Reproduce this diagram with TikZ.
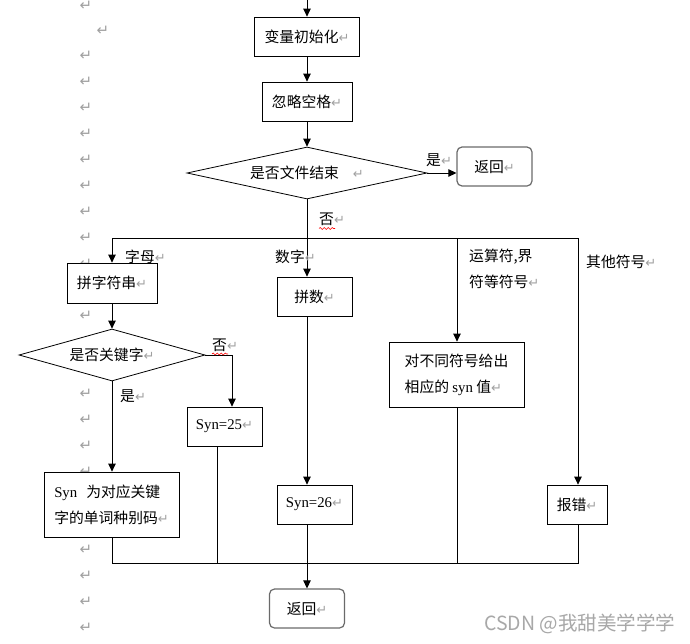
\documentclass[tikz,border=0pt]{standalone}
\usepackage{fontspec}
\setmainfont{Liberation Serif}
\newfontfamily\cjk{Noto Sans CJK SC}
\newfontfamily\symf{DejaVu Sans}
\usetikzlibrary{arrows.meta,shapes.geometric,decorations.pathmorphing}
\definecolor{markgray}{HTML}{A0A0A0}
\definecolor{rgray}{HTML}{6A6A6A}
\definecolor{wmgray}{HTML}{A8A8A8}
\newcommand{\rt}{{\symf\fontsize{13}{13}\selectfont\color{markgray}↵}}
\newcommand{\lat}[1]{{\rmfamily #1}}
\begin{document}
\begin{tikzpicture}[x=1pt,y=-1pt,
  every node/.style={font=\cjk\fontsize{14.8}{26}\selectfont, inner sep=0pt},
  box/.style={draw, line width=0.8pt, fill=white, align=left},
  rbox/.style={draw=rgray, line width=1.2pt, rounded corners=5pt, fill=white},
  dia/.style={diamond, draw, line width=0.8pt, fill=white},
  arr/.style={-{Triangle[length=8pt,width=7.5pt]}, line width=0.8pt},
  ln/.style={line width=0.8pt},
  lbl/.style={anchor=base west},
  mk/.style={font=\symf\fontsize{15}{15}\selectfont, text=markgray},
  wavy/.style={red, line width=0.6pt, decorate, decoration={snake, amplitude=1pt, segment length=4pt}}
]
\useasboundingbox (0,0) rectangle (690,643);
\fill[white] (0,0) rectangle (690,643);

% paragraph marks in the left margin
\node[mk] (m0) at (86,6) {↵};
\node[mk] (m1) at (103,31) {↵};
\foreach \yy [count=\i] in {56,82,108,134,160,186,212,238,264,316,394,420,446,472,550,576,602,628}
  \node[mk] (ml\i) at (86,\yy) {↵};

% boxes
\node[box, minimum width=105pt, minimum height=39pt] (A) at (307,36.5) {变量初始化\rt};
\node[box, minimum width=90pt, minimum height=39pt] (B) at (307,101.5) {忽略空格\rt};
\node[dia, minimum width=240pt, minimum height=52pt, aspect=4.6] (C) at (307,173) {是否文件结束\hspace{14pt}\rt};
\node[rbox, minimum width=75pt, minimum height=39pt] (D) at (494.5,166.5) {返回\rt};
\node[box, minimum width=90pt, minimum height=40pt] (E) at (112,283) {拼字符串\rt};
\node[dia, minimum width=186pt, minimum height=52pt, aspect=3.6] (F) at (112,355) {是否关键字\rt};
\node[box, minimum width=75pt, minimum height=39pt] (G) at (224.5,426.5) {\lat{Syn=25}\rt};
\node[box, minimum width=135pt, minimum height=65pt] (H) at (111.5,504.5) {\lat{Syn}\hspace{9pt}为对应关键\\字的单词种别码\rt};
\node[box, minimum width=75pt, minimum height=39pt] (I) at (314.5,296.5) {拼数\rt};
\node[box, minimum width=75pt, minimum height=39pt] (J) at (314.5,504.5) {\lat{Syn=26}\rt};
\node[box, minimum width=135pt, minimum height=65pt] (K) at (456.5,374.5) {对不同符号给出\\相应的 \lat{syn} 值\rt};
\node[box, minimum width=60pt, minimum height=39pt] (L) at (577,504.5) {报错\rt};
\node[rbox, minimum width=75pt, minimum height=39pt] (M) at (307,608.5) {返回\rt};

% junction coordinates
\coordinate (top) at (307,0);
\coordinate (j0) at (307,238);
\coordinate (jL) at (112,238);
\coordinate (jS) at (457,238);
\coordinate (jR) at (578,238);
\coordinate (fN) at (232,355);
\coordinate (bL) at (112,563);
\coordinate (bG) at (217,563);
\coordinate (bM) at (307,563);
\coordinate (bS) at (457,563);
\coordinate (bR) at (578,563);

% connectors
\draw[arr] (top) -- (A.north);
\draw[arr] (A) -- (B);
\draw[arr] (B) -- (C.north);
\draw[arr] (C.east) -- (C.east -| D.west);
\draw[ln] (C.south) -- (j0);
\draw[ln] (jL) -- (jR);
\draw[arr] (jL) -- (E.north);
\draw[arr] (j0) -- (j0 |- I.north);
\draw[arr] (jS) -- (jS |- K.north);
\draw[arr] (jR) -- (jR |- L.north);
\draw[arr] (E) -- (F.north);
\draw[arr] (F.east) -- (fN) -- (fN |- G.north);
\draw[arr] (F.south) -- (F.south |- H.north);
\draw[arr] (j0 |- I.south) -- (j0 |- J.north);
\draw[ln] (bL |- H.south) -- (bL) -- (bR) -- (bR |- L.south);
\draw[ln] (bG |- G.south) -- (bG);
\draw[ln] (bS |- K.south) -- (bS);
\draw[arr] (bM |- J.south) -- (M.north);

% labels
\node[lbl] (yes1) at (426,165.5) {是\rt};
\node[lbl] (no1) at (319,224.5) {否\rt};
\draw[wavy] (no1.base west) ++(0,4) -- ++(16,0);
\node[lbl] (t1) at (125,262.5) {字母\rt};
\node[lbl] (t2) at (275,262.5) {数字\rt};
\node[lbl, align=left] (t3) at (469,287.5) {运算符,界\\符等符号\rt};
\node[lbl] (t4) at (586,267.5) {其他符号\rt};
\node[lbl] (no2) at (212,350.5) {否\rt};
\draw[wavy] (no2.base west) ++(0,3.5) -- ++(16,0);
\node[lbl] (yes2) at (120,401.5) {是\rt};

% watermark
\node[lbl, font=\cjk\fontsize{19.5}{20}\selectfont, text=wmgray] (wm) at (484,630) {CSDN @我甜美学学学};
\end{tikzpicture}
\end{document}
